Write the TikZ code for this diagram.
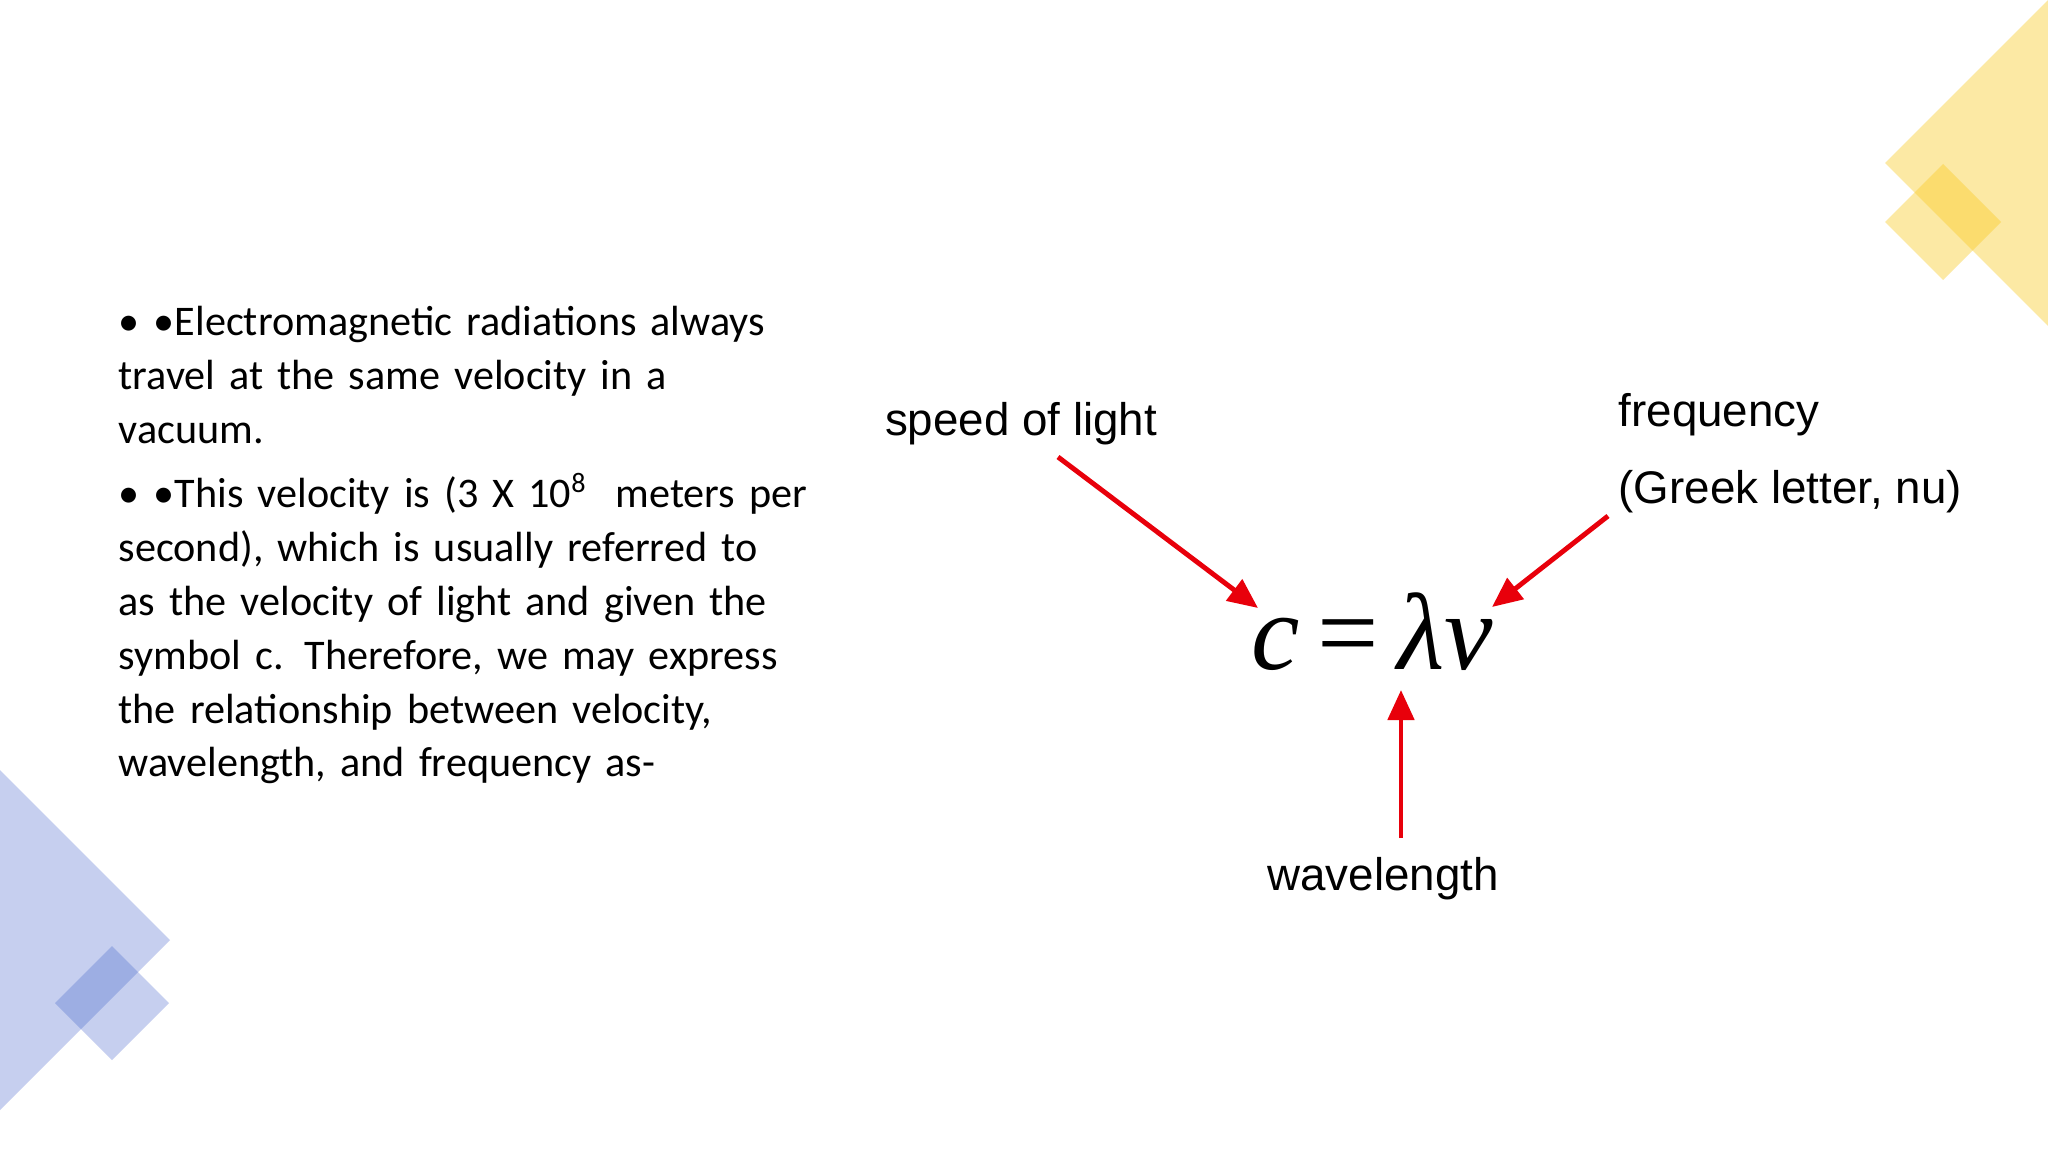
\documentclass[tikz,border=0pt]{standalone}
\usepackage{fontspec}
\setmainfont{Carlito}
\newfontfamily\lab{Liberation Sans}
\newfontfamily\eqf{Liberation Serif}
\usetikzlibrary{arrows.meta}
\hyphenpenalty=10000
\exhyphenpenalty=10000
\definecolor{yl}{HTML}{FCE9A4}
\definecolor{yd}{HTML}{FBDC6E}
\definecolor{bl}{HTML}{C6CFEF}
\definecolor{bd}{HTML}{9DAEE3}
\definecolor{rr}{HTML}{E8000B}
\tikzset{lbl/.style={font=\lab\fontsize{13}{16}\selectfont,inner sep=0pt},
arr/.style={draw=rr,line width=1.4pt,-{Triangle[length=0.3cm,width=0.26cm]}}}
\begin{document}
\begin{tikzpicture}[x=0.01cm,y=-0.01cm]
\useasboundingbox[fill=white] (0,0) rectangle (2048,1152);
% yellow
\fill[yl] (2048,0) -- (2211,163) -- (2048,326) -- (1885,163) -- cycle;
\fill[yl] (1943,164) -- (2001,222) -- (1943,280) -- (1885,222) -- cycle;
\begin{scope}
\clip (2048,0) -- (2211,163) -- (2048,326) -- (1885,163) -- cycle;
\fill[yd] (1943,164) -- (2001,222) -- (1943,280) -- (1885,222) -- cycle;
\end{scope}
% blue
\fill[bl] (0,770) -- (170,940) -- (0,1110) -- (-170,940) -- cycle;
\fill[bl] (112,946) -- (169,1003) -- (112,1060) -- (55,1003) -- cycle;
\begin{scope}
\clip (0,770) -- (170,940) -- (0,1110) -- (-170,940) -- cycle;
\fill[bd] (112,946) -- (169,1003) -- (112,1060) -- (55,1003) -- cycle;
\end{scope}
% text
\node[anchor=north west,align=left,inner sep=0pt,text width=6.9cm,font=\fontsize{12}{15.3}\selectfont] (txt) at (118,306) {%
• •Electromagnetic radiations always travel at the same velocity in a vacuum.\\[3pt]
• •This velocity is (3 X 10\textsuperscript{8}\ \ meters per second), which is usually referred to as the velocity of light and given the symbol c. Therefore, we may express the relationship between velocity, wavelength, and frequency as-};
% equation
\node[inner sep=0pt,font=\eqf\fontsize{31}{36}\selectfont] (eq) at (1372,632) {\textit{c}\,=\,\textit{λν}};
\node[lbl] (sol) at (1021,424) {speed of light};
\node[lbl,anchor=west,align=left] (fr) at (1618,453) {frequency\\[6pt](Greek letter, nu)};
\node[lbl] (wl) at (1383,879) {wavelength};
\coordinate (a1) at (1058,457); \coordinate (b1) at (1258,608);
\coordinate (a2) at (1608,516); \coordinate (b2) at (1492,607);
\coordinate (a3) at (1401,838); \coordinate (b3) at (1401,690);
\draw[arr] (a1) -- (b1);
\draw[arr] (a2) -- (b2);
\draw[arr] (a3) -- (b3);
\end{tikzpicture}
\end{document}
